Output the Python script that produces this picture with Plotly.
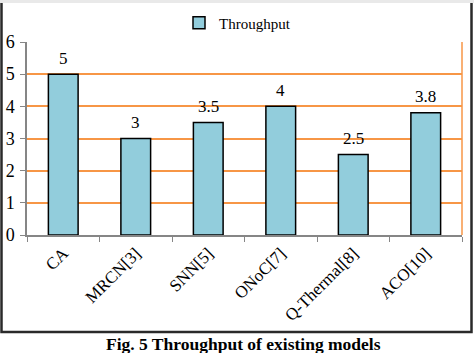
import plotly.graph_objects as go

categories = ["CA", "MRCN[3]", "SNN[5]", "ONoC[7]", "Q-Thermal[8]", "ACO[10]"]
throughput = [5, 3, 3.5, 4, 2.5, 3.8]
value_labels = ["5", "3", "3.5", "4", "2.5", "3.8"]
y_ticks = [0, 1, 2, 3, 4, 5, 6]

W, H = 474, 353
L, R, T, B = 27, 12, 42, 118
pw, ph = W - L - R, H - T - B

def px_x(p):
    return (p - L) / pw

def px_y(p):
    return (H - B - p) / ph

serif = "Liberation Serif, Times New Roman, Times, serif"
orange = "#F79646"

fig = go.Figure()
fig.add_trace(go.Bar(
    x=categories, y=throughput, name="Throughput",
    marker=dict(color="#92CDDC", line=dict(color="black", width=1.5)),
    width=0.41,
))

for c, v, t in zip(categories, throughput, value_labels):
    fig.add_annotation(x=c, y=v, text=t, showarrow=False, yshift=16,
                       font=dict(family=serif, size=17, color="black"))

fig.add_annotation(xref="paper", yref="paper", x=px_x(243), y=px_y(344),
                   xanchor="center", yanchor="middle",
                   text="<b>Fig. 5 Throughput of existing models</b>", showarrow=False,
                   font=dict(family=serif, size=17.5, color="black"))

# outer frame
fig.add_shape(type="rect", xref="paper", yref="paper",
              x0=px_x(1.5), x1=px_x(471.5), y0=px_y(332), y1=px_y(-5),
              line=dict(color="#2a2a2a", width=2.5), layer="below")
fig.add_shape(type="rect", xref="paper", yref="paper",
              x0=px_x(0), x1=px_x(474), y0=px_y(3), y1=px_y(-5),
              line=dict(width=0), fillcolor="#e9e9e9", layer="below")
# right orange border of plot area
fig.add_shape(type="line", xref="paper", yref="paper", x0=1, x1=1, y0=0, y1=1,
              line=dict(color=orange, width=1.5))

fig.update_layout(
    width=W, height=H,
    margin=dict(l=L, r=R, t=T, b=B, autoexpand=False),
    paper_bgcolor="white", plot_bgcolor="white",
    showlegend=True,
    font=dict(family=serif, color="black"),
    legend=dict(orientation="h", x=0.5 - 7 / pw, xanchor="center", y=px_y(23), yanchor="middle",
                font=dict(family=serif, size=15, color="black"), bgcolor="rgba(0,0,0,0)"),
    xaxis=dict(type="category", tickangle=-45, ticks="outside", ticklen=5,
               tickcolor="#868686", tickson="boundaries", showline=True,
               linecolor="#868686", linewidth=1.5, showgrid=False, automargin=False,
               tickfont=dict(family=serif, size=17, color="black")),
    yaxis=dict(range=[0, 6], tickvals=y_ticks, ticks="outside", ticklen=5,
               tickcolor="#868686", showline=True, linecolor="#868686", linewidth=1.5,
               showgrid=True, gridcolor=orange, gridwidth=1.5, zeroline=False,
               automargin=False, ticklabelstandoff=2,
               tickfont=dict(family=serif, size=18, color="black")),
    bargap=0.59,
)

fig.write_html("out.html")
